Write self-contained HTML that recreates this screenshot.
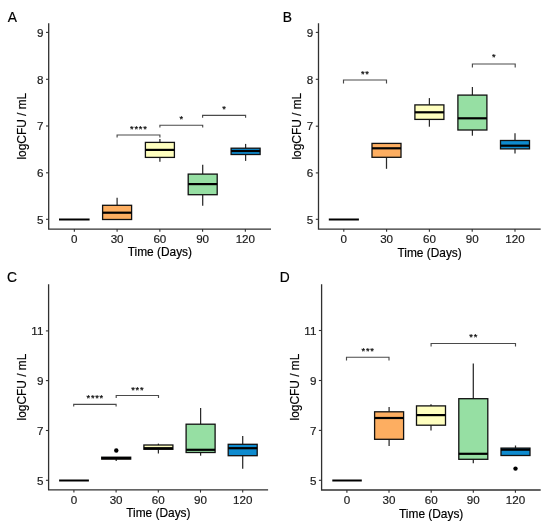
<!DOCTYPE html>
<html><head><meta charset="utf-8"><style>
html,body{margin:0;padding:0;background:#fff;}
svg{display:block;font-family:"Liberation Sans", sans-serif;will-change:transform;filter:blur(0.3px);}
text{stroke:currentColor;stroke-width:0.18px;}
</style></head><body>
<svg width="550" height="528" viewBox="0 0 550 528">
<rect width="550" height="528" fill="#fff"/>
<text x="7.7" y="21.5" font-size="13.8">A</text>
<path d="M48.7 23.3V229.1H271" fill="none" stroke="#303030" stroke-width="1.3"/>
<path d="M46 32.4H48.7" stroke="#303030" stroke-width="1.1"/>
<text transform="translate(43.5,36.67) scale(1.04,1)" font-size="11.2" text-anchor="end" fill="#1a1a1a" style="color:#1a1a1a">9</text>
<path d="M46 79.3H48.7" stroke="#303030" stroke-width="1.1"/>
<text transform="translate(43.5,83.57) scale(1.04,1)" font-size="11.2" text-anchor="end" fill="#1a1a1a" style="color:#1a1a1a">8</text>
<path d="M46 126H48.7" stroke="#303030" stroke-width="1.1"/>
<text transform="translate(43.5,130.27) scale(1.04,1)" font-size="11.2" text-anchor="end" fill="#1a1a1a" style="color:#1a1a1a">7</text>
<path d="M46 172.8H48.7" stroke="#303030" stroke-width="1.1"/>
<text transform="translate(43.5,177.07) scale(1.04,1)" font-size="11.2" text-anchor="end" fill="#1a1a1a" style="color:#1a1a1a">6</text>
<path d="M46 219.3H48.7" stroke="#303030" stroke-width="1.1"/>
<text transform="translate(43.5,223.57) scale(1.04,1)" font-size="11.2" text-anchor="end" fill="#1a1a1a" style="color:#1a1a1a">5</text>
<path d="M74.35 229.1V231.8" stroke="#303030" stroke-width="1.1"/>
<text transform="translate(74.35,243.1) scale(1.04,1)" font-size="11.2" text-anchor="middle" fill="#1a1a1a" style="color:#1a1a1a">0</text>
<path d="M117.1 229.1V231.8" stroke="#303030" stroke-width="1.1"/>
<text transform="translate(117.1,243.1) scale(1.04,1)" font-size="11.2" text-anchor="middle" fill="#1a1a1a" style="color:#1a1a1a">30</text>
<path d="M159.85 229.1V231.8" stroke="#303030" stroke-width="1.1"/>
<text transform="translate(159.85,243.1) scale(1.04,1)" font-size="11.2" text-anchor="middle" fill="#1a1a1a" style="color:#1a1a1a">60</text>
<path d="M202.6 229.1V231.8" stroke="#303030" stroke-width="1.1"/>
<text transform="translate(202.6,243.1) scale(1.04,1)" font-size="11.2" text-anchor="middle" fill="#1a1a1a" style="color:#1a1a1a">90</text>
<path d="M245.35 229.1V231.8" stroke="#303030" stroke-width="1.1"/>
<text transform="translate(245.35,243.1) scale(1.04,1)" font-size="11.2" text-anchor="middle" fill="#1a1a1a" style="color:#1a1a1a">120</text>
<text transform="translate(159.85,256.3) scale(1.0,1)" font-size="11.9" text-anchor="middle" fill="#000" style="color:#000">Time (Days)</text>
<text transform="translate(25.9,126.2) rotate(-90) scale(1,1)" font-size="11.9" text-anchor="middle" fill="#000" style="color:#000">logCFU / mL</text>
<path d="M59 219.5H89.6" stroke="#000" stroke-width="2.0"/>
<path d="M117.1 197.7V205.3" stroke="#2a2a2a" stroke-width="1.25"/>
<rect x="102.6" y="205.3" width="29" height="14.2" fill="#FDAE61" stroke="#111" stroke-width="1.3"/>
<path d="M102.6 212.7H131.6" stroke="#000" stroke-width="2.2"/>
<path d="M159.9 139V142.4" stroke="#2a2a2a" stroke-width="1.25"/>
<path d="M159.9 157.4V161.7" stroke="#2a2a2a" stroke-width="1.25"/>
<rect x="145.4" y="142.4" width="29" height="15" fill="#FFFFBF" stroke="#111" stroke-width="1.3"/>
<path d="M145.4 149.9H174.4" stroke="#000" stroke-width="2.2"/>
<path d="M202.7 164.8V174.1" stroke="#2a2a2a" stroke-width="1.25"/>
<path d="M202.7 194.7V205.7" stroke="#2a2a2a" stroke-width="1.25"/>
<rect x="188.2" y="174.1" width="29" height="20.6" fill="#96DFA3" stroke="#111" stroke-width="1.3"/>
<path d="M188.2 184.1H217.2" stroke="#000" stroke-width="2.2"/>
<path d="M245.6 143.9V148.2" stroke="#2a2a2a" stroke-width="1.25"/>
<path d="M245.6 154.5V160.9" stroke="#2a2a2a" stroke-width="1.25"/>
<rect x="231.1" y="148.2" width="29" height="6.3" fill="#0E8BCF" stroke="#111" stroke-width="1.3"/>
<path d="M231.1 151H260.1" stroke="#000" stroke-width="2.2"/>
<path d="M117.1 137.4V135H159.9V137.4" fill="none" stroke="#4a4a4a" stroke-width="1.15"/>
<text letter-spacing="0.7" stroke="#000" stroke-width="0.3" transform="translate(138.85,131.93) scale(1.04,1)" font-size="9" text-anchor="middle" fill="#000" style="color:#000">****</text>
<path d="M159.9 127.6V125.2H202.7V127.6" fill="none" stroke="#4a4a4a" stroke-width="1.15"/>
<text letter-spacing="0.7" stroke="#000" stroke-width="0.3" transform="translate(181.65,122.13) scale(1.04,1)" font-size="9" text-anchor="middle" fill="#000" style="color:#000">*</text>
<path d="M202.6 117.8V115.4H245.6V117.8" fill="none" stroke="#4a4a4a" stroke-width="1.15"/>
<text letter-spacing="0.7" stroke="#000" stroke-width="0.3" transform="translate(224.45,112.23) scale(1.04,1)" font-size="9" text-anchor="middle" fill="#000" style="color:#000">*</text>
<text x="282.8" y="21.5" font-size="13.8">B</text>
<path d="M318.5 23.3V229.1H540.7" fill="none" stroke="#303030" stroke-width="1.3"/>
<path d="M315.8 32.4H318.5" stroke="#303030" stroke-width="1.1"/>
<text transform="translate(313.3,36.67) scale(1.04,1)" font-size="11.2" text-anchor="end" fill="#1a1a1a" style="color:#1a1a1a">9</text>
<path d="M315.8 79.3H318.5" stroke="#303030" stroke-width="1.1"/>
<text transform="translate(313.3,83.57) scale(1.04,1)" font-size="11.2" text-anchor="end" fill="#1a1a1a" style="color:#1a1a1a">8</text>
<path d="M315.8 126.2H318.5" stroke="#303030" stroke-width="1.1"/>
<text transform="translate(313.3,130.47) scale(1.04,1)" font-size="11.2" text-anchor="end" fill="#1a1a1a" style="color:#1a1a1a">7</text>
<path d="M315.8 172.9H318.5" stroke="#303030" stroke-width="1.1"/>
<text transform="translate(313.3,177.17) scale(1.04,1)" font-size="11.2" text-anchor="end" fill="#1a1a1a" style="color:#1a1a1a">6</text>
<path d="M315.8 219.3H318.5" stroke="#303030" stroke-width="1.1"/>
<text transform="translate(313.3,223.57) scale(1.04,1)" font-size="11.2" text-anchor="end" fill="#1a1a1a" style="color:#1a1a1a">5</text>
<path d="M343.8 229.1V231.8" stroke="#303030" stroke-width="1.1"/>
<text transform="translate(343.8,243.1) scale(1.04,1)" font-size="11.2" text-anchor="middle" fill="#1a1a1a" style="color:#1a1a1a">0</text>
<path d="M386.6 229.1V231.8" stroke="#303030" stroke-width="1.1"/>
<text transform="translate(386.6,243.1) scale(1.04,1)" font-size="11.2" text-anchor="middle" fill="#1a1a1a" style="color:#1a1a1a">30</text>
<path d="M429.4 229.1V231.8" stroke="#303030" stroke-width="1.1"/>
<text transform="translate(429.4,243.1) scale(1.04,1)" font-size="11.2" text-anchor="middle" fill="#1a1a1a" style="color:#1a1a1a">60</text>
<path d="M472.2 229.1V231.8" stroke="#303030" stroke-width="1.1"/>
<text transform="translate(472.2,243.1) scale(1.04,1)" font-size="11.2" text-anchor="middle" fill="#1a1a1a" style="color:#1a1a1a">90</text>
<path d="M515 229.1V231.8" stroke="#303030" stroke-width="1.1"/>
<text transform="translate(515,243.1) scale(1.04,1)" font-size="11.2" text-anchor="middle" fill="#1a1a1a" style="color:#1a1a1a">120</text>
<text transform="translate(429.6,256.5) scale(1.0,1)" font-size="11.9" text-anchor="middle" fill="#000" style="color:#000">Time (Days)</text>
<text transform="translate(301.3,126.2) rotate(-90) scale(1,1)" font-size="11.9" text-anchor="middle" fill="#000" style="color:#000">logCFU / mL</text>
<path d="M328.8 219.5H358.9" stroke="#000" stroke-width="2.0"/>
<path d="M386.5 157.3V168.8" stroke="#2a2a2a" stroke-width="1.25"/>
<rect x="372" y="143.4" width="29" height="13.9" fill="#FDAE61" stroke="#111" stroke-width="1.3"/>
<path d="M372 148.3H401" stroke="#000" stroke-width="2.2"/>
<path d="M429.4 98.1V104.9" stroke="#2a2a2a" stroke-width="1.25"/>
<path d="M429.4 119.4V126.7" stroke="#2a2a2a" stroke-width="1.25"/>
<rect x="414.9" y="104.9" width="29" height="14.5" fill="#FFFFBF" stroke="#111" stroke-width="1.3"/>
<path d="M414.9 112.3H443.9" stroke="#000" stroke-width="2.2"/>
<path d="M472.4 87V95.1" stroke="#2a2a2a" stroke-width="1.25"/>
<path d="M472.4 130V135.7" stroke="#2a2a2a" stroke-width="1.25"/>
<rect x="457.9" y="95.1" width="29" height="34.9" fill="#96DFA3" stroke="#111" stroke-width="1.3"/>
<path d="M457.9 118.3H486.9" stroke="#000" stroke-width="2.2"/>
<path d="M515 133.2V140.5" stroke="#2a2a2a" stroke-width="1.25"/>
<path d="M515 148.9V153.5" stroke="#2a2a2a" stroke-width="1.25"/>
<rect x="500.5" y="140.5" width="29" height="8.4" fill="#0E8BCF" stroke="#111" stroke-width="1.3"/>
<path d="M500.5 145.7H529.5" stroke="#000" stroke-width="2.2"/>
<path d="M343.5 83.5V80H386.5V83.5" fill="none" stroke="#4a4a4a" stroke-width="1.15"/>
<text letter-spacing="0.7" stroke="#000" stroke-width="0.3" transform="translate(365.35,76.63) scale(1.04,1)" font-size="9" text-anchor="middle" fill="#000" style="color:#000">**</text>
<path d="M472.4 67.5V64H515.2V67.5" fill="none" stroke="#4a4a4a" stroke-width="1.15"/>
<text letter-spacing="0.7" stroke="#000" stroke-width="0.3" transform="translate(494.15,60.33) scale(1.04,1)" font-size="9" text-anchor="middle" fill="#000" style="color:#000">*</text>
<text x="7" y="282.2" font-size="13.8">C</text>
<path d="M48.6 284.2V489.9H268.1" fill="none" stroke="#303030" stroke-width="1.3"/>
<path d="M45.9 330.9H48.6" stroke="#303030" stroke-width="1.1"/>
<text transform="translate(43.4,335.17) scale(1.04,1)" font-size="11.2" text-anchor="end" fill="#1a1a1a" style="color:#1a1a1a">11</text>
<path d="M45.9 380.6H48.6" stroke="#303030" stroke-width="1.1"/>
<text transform="translate(43.4,384.87) scale(1.04,1)" font-size="11.2" text-anchor="end" fill="#1a1a1a" style="color:#1a1a1a">9</text>
<path d="M45.9 430.5H48.6" stroke="#303030" stroke-width="1.1"/>
<text transform="translate(43.4,434.77) scale(1.04,1)" font-size="11.2" text-anchor="end" fill="#1a1a1a" style="color:#1a1a1a">7</text>
<path d="M45.9 480.3H48.6" stroke="#303030" stroke-width="1.1"/>
<text transform="translate(43.4,484.57) scale(1.04,1)" font-size="11.2" text-anchor="end" fill="#1a1a1a" style="color:#1a1a1a">5</text>
<path d="M73.9 489.9V492.6" stroke="#303030" stroke-width="1.1"/>
<text transform="translate(73.9,503.9) scale(1.04,1)" font-size="11.2" text-anchor="middle" fill="#1a1a1a" style="color:#1a1a1a">0</text>
<path d="M116.1 489.9V492.6" stroke="#303030" stroke-width="1.1"/>
<text transform="translate(116.1,503.9) scale(1.04,1)" font-size="11.2" text-anchor="middle" fill="#1a1a1a" style="color:#1a1a1a">30</text>
<path d="M158.3 489.9V492.6" stroke="#303030" stroke-width="1.1"/>
<text transform="translate(158.3,503.9) scale(1.04,1)" font-size="11.2" text-anchor="middle" fill="#1a1a1a" style="color:#1a1a1a">60</text>
<path d="M200.5 489.9V492.6" stroke="#303030" stroke-width="1.1"/>
<text transform="translate(200.5,503.9) scale(1.04,1)" font-size="11.2" text-anchor="middle" fill="#1a1a1a" style="color:#1a1a1a">90</text>
<path d="M242.7 489.9V492.6" stroke="#303030" stroke-width="1.1"/>
<text transform="translate(242.7,503.9) scale(1.04,1)" font-size="11.2" text-anchor="middle" fill="#1a1a1a" style="color:#1a1a1a">120</text>
<text transform="translate(158.35,517.4) scale(1.0,1)" font-size="11.9" text-anchor="middle" fill="#000" style="color:#000">Time (Days)</text>
<text transform="translate(26.2,387.05) rotate(-90) scale(1,1)" font-size="11.9" text-anchor="middle" fill="#000" style="color:#000">logCFU / mL</text>
<path d="M59.1 480.5H88.9" stroke="#000" stroke-width="2.0"/>
<path d="M116.2 459.1V461.1" stroke="#2a2a2a" stroke-width="1.25"/>
<rect x="101.7" y="457.2" width="29" height="1.9" fill="#FDAE61" stroke="#111" stroke-width="1.3"/>
<path d="M101.7 458.1H130.7" stroke="#000" stroke-width="2.2"/>
<path d="M158.4 443.6V445" stroke="#2a2a2a" stroke-width="1.25"/>
<path d="M158.4 449.3V453.5" stroke="#2a2a2a" stroke-width="1.25"/>
<rect x="143.9" y="445" width="29" height="4.3" fill="#FFFFBF" stroke="#111" stroke-width="1.3"/>
<path d="M143.9 448.2H172.9" stroke="#000" stroke-width="2.2"/>
<path d="M200.6 408V424.2" stroke="#2a2a2a" stroke-width="1.25"/>
<path d="M200.6 452.5V455.7" stroke="#2a2a2a" stroke-width="1.25"/>
<rect x="186.1" y="424.2" width="29" height="28.3" fill="#96DFA3" stroke="#111" stroke-width="1.3"/>
<path d="M186.1 449.8H215.1" stroke="#000" stroke-width="2.2"/>
<path d="M242.7 435.9V444.3" stroke="#2a2a2a" stroke-width="1.25"/>
<path d="M242.7 455.7V468.8" stroke="#2a2a2a" stroke-width="1.25"/>
<rect x="228.2" y="444.3" width="29" height="11.4" fill="#0E8BCF" stroke="#111" stroke-width="1.3"/>
<path d="M228.2 448.2H257.2" stroke="#000" stroke-width="2.2"/>
<circle cx="116.3" cy="450.5" r="2.2" fill="#000"/>
<path d="M73.7 406.6V404.4H116.1V406.6" fill="none" stroke="#4a4a4a" stroke-width="1.15"/>
<text letter-spacing="0.7" stroke="#000" stroke-width="0.3" transform="translate(95.25,401.03) scale(1.04,1)" font-size="9" text-anchor="middle" fill="#000" style="color:#000">****</text>
<path d="M116.2 397.9V395.5H158.5V397.9" fill="none" stroke="#4a4a4a" stroke-width="1.15"/>
<text letter-spacing="0.7" stroke="#000" stroke-width="0.3" transform="translate(137.7,392.53) scale(1.04,1)" font-size="9" text-anchor="middle" fill="#000" style="color:#000">***</text>
<text x="279.8" y="282.2" font-size="13.8">D</text>
<path d="M321.6 284.2V490H540.7" fill="none" stroke="#303030" stroke-width="1.3"/>
<path d="M318.9 330.5H321.6" stroke="#303030" stroke-width="1.1"/>
<text transform="translate(316.4,334.77) scale(1.04,1)" font-size="11.2" text-anchor="end" fill="#1a1a1a" style="color:#1a1a1a">11</text>
<path d="M318.9 380.5H321.6" stroke="#303030" stroke-width="1.1"/>
<text transform="translate(316.4,384.77) scale(1.04,1)" font-size="11.2" text-anchor="end" fill="#1a1a1a" style="color:#1a1a1a">9</text>
<path d="M318.9 430.4H321.6" stroke="#303030" stroke-width="1.1"/>
<text transform="translate(316.4,434.67) scale(1.04,1)" font-size="11.2" text-anchor="end" fill="#1a1a1a" style="color:#1a1a1a">7</text>
<path d="M318.9 480.3H321.6" stroke="#303030" stroke-width="1.1"/>
<text transform="translate(316.4,484.57) scale(1.04,1)" font-size="11.2" text-anchor="end" fill="#1a1a1a" style="color:#1a1a1a">5</text>
<path d="M346.9 490V492.7" stroke="#303030" stroke-width="1.1"/>
<text transform="translate(346.9,504) scale(1.04,1)" font-size="11.2" text-anchor="middle" fill="#1a1a1a" style="color:#1a1a1a">0</text>
<path d="M389 490V492.7" stroke="#303030" stroke-width="1.1"/>
<text transform="translate(389,504) scale(1.04,1)" font-size="11.2" text-anchor="middle" fill="#1a1a1a" style="color:#1a1a1a">30</text>
<path d="M431.2 490V492.7" stroke="#303030" stroke-width="1.1"/>
<text transform="translate(431.2,504) scale(1.04,1)" font-size="11.2" text-anchor="middle" fill="#1a1a1a" style="color:#1a1a1a">60</text>
<path d="M473.3 490V492.7" stroke="#303030" stroke-width="1.1"/>
<text transform="translate(473.3,504) scale(1.04,1)" font-size="11.2" text-anchor="middle" fill="#1a1a1a" style="color:#1a1a1a">90</text>
<path d="M515.4 490V492.7" stroke="#303030" stroke-width="1.1"/>
<text transform="translate(515.4,504) scale(1.04,1)" font-size="11.2" text-anchor="middle" fill="#1a1a1a" style="color:#1a1a1a">120</text>
<text transform="translate(431.15,517.6) scale(1.0,1)" font-size="11.9" text-anchor="middle" fill="#000" style="color:#000">Time (Days)</text>
<text transform="translate(298.6,387.1) rotate(-90) scale(1,1)" font-size="11.9" text-anchor="middle" fill="#000" style="color:#000">logCFU / mL</text>
<path d="M332.3 480.5H361.8" stroke="#000" stroke-width="2.0"/>
<path d="M389.1 407.1V411.8" stroke="#2a2a2a" stroke-width="1.25"/>
<path d="M389.1 439.3V445.9" stroke="#2a2a2a" stroke-width="1.25"/>
<rect x="374.6" y="411.8" width="29" height="27.5" fill="#FDAE61" stroke="#111" stroke-width="1.3"/>
<path d="M374.6 418H403.6" stroke="#000" stroke-width="2.2"/>
<path d="M431 404.2V405.9" stroke="#2a2a2a" stroke-width="1.25"/>
<path d="M431 425.2V430.5" stroke="#2a2a2a" stroke-width="1.25"/>
<rect x="416.5" y="405.9" width="29" height="19.3" fill="#FFFFBF" stroke="#111" stroke-width="1.3"/>
<path d="M416.5 415.1H445.5" stroke="#000" stroke-width="2.2"/>
<path d="M473.3 363.5V398.7" stroke="#2a2a2a" stroke-width="1.25"/>
<path d="M473.3 459.3V463.2" stroke="#2a2a2a" stroke-width="1.25"/>
<rect x="458.8" y="398.7" width="29" height="60.6" fill="#96DFA3" stroke="#111" stroke-width="1.3"/>
<path d="M458.8 453.8H487.8" stroke="#000" stroke-width="2.2"/>
<path d="M515.5 445.5V448.1" stroke="#2a2a2a" stroke-width="1.25"/>
<rect x="501" y="448.1" width="29" height="7.4" fill="#0E8BCF" stroke="#111" stroke-width="1.3"/>
<path d="M501 449.7H530" stroke="#000" stroke-width="2.2"/>
<circle cx="515.5" cy="468.6" r="2.2" fill="#000"/>
<path d="M346.5 360.4V357.2H389V360.4" fill="none" stroke="#4a4a4a" stroke-width="1.15"/>
<text letter-spacing="0.7" stroke="#000" stroke-width="0.3" transform="translate(368.1,354.23) scale(1.04,1)" font-size="9" text-anchor="middle" fill="#000" style="color:#000">***</text>
<path d="M431.1 346.5V343.5H515.5V346.5" fill="none" stroke="#4a4a4a" stroke-width="1.15"/>
<text letter-spacing="0.7" stroke="#000" stroke-width="0.3" transform="translate(473.65,339.93) scale(1.04,1)" font-size="9" text-anchor="middle" fill="#000" style="color:#000">**</text>
</svg>
</body></html>
